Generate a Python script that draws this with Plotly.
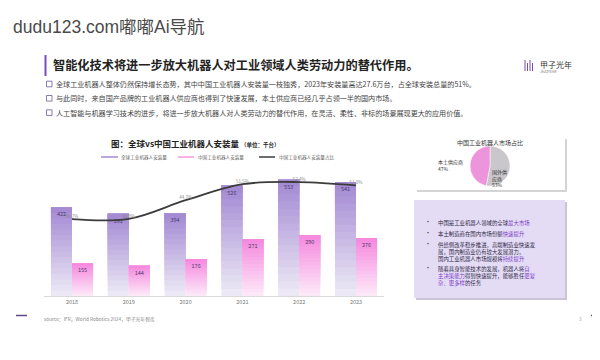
import plotly.graph_objects as go

# ---------------- data ----------------
years = ["2018", "2019", "2020", "2021", "2022", "2023"]
global_installs = [422, 391, 394, 526, 553, 541]
china_installs = [155, 144, 176, 271, 290, 276]
china_share = [36.7, 36.8, 44.7, 51.5, 52.4, 51.0]

series_names = ["全球工业机器人安装量", "中国工业机器人安装量", "中国工业机器人安装量占比"]

pie_labels = ["国外供应商", "本土供应商"]
pie_values = [53, 47]

FONT = "Noto Sans CJK SC"
W, H = 600, 360


def px(x):
    return x / W


def py(y):
    return 1 - y / H


def lerp_color(c1, c2, t):
    a = [int(c1[i:i + 2], 16) for i in (1, 3, 5)]
    b = [int(c2[i:i + 2], 16) for i in (1, 3, 5)]
    return "rgb(%d,%d,%d)" % tuple(round(a[i] + (b[i] - a[i]) * t) for i in range(3))


fig = go.Figure()

# gradient bars: layered bars, each starting higher, same offsetgroup
N = 16
grads = [
    (global_installs, "g", "#ece8f5", "#a48bd3"),
    (china_installs, "c", "#fde8f8", "#f58adf"),
]
for vals, grp, c_bot, c_top in grads:
    for k in range(N):
        bases = [v * k / N for v in vals]
        heights = [v - b for v, b in zip(vals, bases)]
        fig.add_trace(go.Bar(
            x=years, y=heights, base=bases, offsetgroup=grp,
            marker=dict(color=lerp_color(c_bot, c_top, k / (N - 1)), line=dict(width=0)),
            showlegend=False, hoverinfo="skip"))
    # transparent bar carrying the value label
    fig.add_trace(go.Bar(
        x=years, y=vals, offsetgroup=grp,
        marker=dict(color="rgba(0,0,0,0)", line=dict(width=0)),
        text=[str(v) for v in vals], textposition="inside", insidetextanchor="end",
        textangle=0, constraintext="none",
        insidetextfont=dict(family=FONT, size=5.5, color="#4a3b6e"),
        showlegend=False, hoverinfo="skip"))

# share line
fig.add_trace(go.Scatter(
    x=years, y=china_share, yaxis="y2", mode="lines+text",
    line=dict(color="#3c3c3c", width=1.8, shape="spline", smoothing=1),
    text=["%.1f%%" % v for v in china_share], textposition="top center",
    textfont=dict(family=FONT, size=4.5, color="#8a8a8a"),
    showlegend=False, hoverinfo="skip"))

# pie
fig.add_trace(go.Pie(
    labels=pie_labels, values=pie_values, sort=False, direction="clockwise", rotation=0,
    marker=dict(colors=["#c9c7cb", "#ec94dc"], line=dict(color="white", width=0.5)),
    textinfo="none", hoverinfo="skip", showlegend=False,
    domain=dict(x=[px(462), px(502)], y=[py(178), py(138)])))

shapes = []
annotations = []


def txt(x, y, s, size, color="#333", bold=False, anchor="left", family=FONT, yanchor="middle"):
    if bold:
        s = "<b>" + s + "</b>"
    annotations.append(dict(x=px(x), y=py(y), xref="paper", yref="paper", text=s,
                            showarrow=False, xanchor=anchor, yanchor=yanchor, align="left",
                            borderpad=0,
                            font=dict(family=family, size=size, color=color)))


def rect(x0, y0, x1, y1, fill, line=None, lw=0, layer="below"):
    shapes.append(dict(type="rect", xref="paper", yref="paper", x0=px(x0), x1=px(x1),
                       y0=py(y1), y1=py(y0), fillcolor=fill,
                       line=dict(color=line or fill, width=lw), layer=layer))


def hline(x0, x1, y, color, width=1.5):
    shapes.append(dict(type="line", xref="paper", yref="paper", x0=px(x0), x1=px(x1),
                       y0=py(y), y1=py(y), line=dict(color=color, width=width)))


# watermark header
txt(4, 19, "dudu123.com嘟嘟Ai导航", 17.5, "#4a4a4a", family="Liberation Sans, " + FONT)

# title bar
rect(36.5, 47, 38.5, 68, "#7a4bc0")
txt(44, 57.5, "智能化技术将进一步放大机器人对工业领域人类劳动力的替代作用。", 12.2, "#222", bold=True)

# logo
for i, xx in enumerate([517, 519.5, 522, 524.5]):
    shapes.append(dict(type="line", xref="paper", yref="paper", x0=px(xx), x1=px(xx),
                       y0=py(52 + (i % 2) * 3), y1=py(63), line=dict(color="#7a4bc0", width=1)))
txt(531, 56, "甲子光年", 8, "#333")
txt(531, 63, "JAZZYEAR", 3.5, "#777")

# bullets
bullets = [
    "全球工业机器人整体仍然保持增长态势，其中中国工业机器人安装量一枝独秀，2023年安装量高达27.6万台，占全球安装总量的51%。",
    "与此同时，来自国产品牌的工业机器人供应商也得到了快速发展，本土供应商已经几乎占领一半的国内市场。",
    "人工智能与机器学习技术的进步，将进一步放大机器人对人类劳动力的替代作用，在灵活、柔性、非标的场景展现更大的应用价值。",
]
for i, b in enumerate(bullets):
    y = 76 + i * 14.3
    rect(38.5, y - 2.8, 44, y + 2.8, "white", line="#6b5a9a", lw=0.8)
    txt(47, y, b, 7.1, "#444")

# chart title
txt(187, 134.5, "图：全球vs中国工业机器人安装量 <span style='font-size:5.5px'>（单位：千台）</span>",
    8.5, "#222", bold=True, anchor="center")

# custom legend
leg = [(93, 110, 112, "#a48bd3"), (170, 186, 189, "#f59ae0"), (251, 267, 270, "#3c3c3c")]
for (x0, x1, xt, c), name in zip(leg, series_names):
    hline(x0, x1, 149, c, 1.5)
    txt(xt, 149, name, 4.6, "#666")

# pie box
rect(409, 131, 559, 184, "#d4d4d4")
rect(407, 129, 557, 182, "white")
txt(482, 134.5, "中国工业机器人市场占比", 6, "#333", anchor="center")
txt(442, 156.5, pie_labels[1] + "<br>%d%%" % pie_values[1], 5, "#333", anchor="center")
txt(491, 169.5, pie_labels[0][:3] + "<br>" + pie_labels[0][3:] + "<br>%d%%" % pie_values[0],
    5, "#333", anchor="center")

# summary box
rect(408, 194, 559, 292, "#cbc4d6")
rect(406, 192, 557, 290, "#e4dbf5")
P = "#7d3fc8"


def hl(s):
    return "<span style='color:%s'>%s</span>" % (P, s)


paras = [
    (213, ["中国是工业机器人领域的全球" + hl("最大市场")]),
    (224, ["本土制造商在国内市场份额" + hl("快速提升")]),
    (235, ["供给侧改革稳步推进，高端制造业快速发",
           "展，国内制造业仍有较大发展潜力，",
           "国内工业机器人市场规模将" + hl("持续提升")]),
    (259, ["随着具身智能技术的发展，机器人将" + hl("自"),
           hl("主决策能力") + "得到快速提升，能够胜任" + hl("更复"),
           hl("杂、更多样") + "的任务"]),
]
for y, lines in paras:
    txt(420, y, "•", 6, "#333", anchor="center")
    txt(429, y - 3.4, "<br>".join(lines), 5.4, "#2f2a45", yanchor="top")

# footer
hline(8, 19, 307.5, "#5b4a8a", 1.5)
hline(583, 595, 307.5, "#5b4a8a", 1.5)
txt(35, 311, "source：IFR，World Robotics 2024，甲子光年智库", 4.8, "#888")
txt(572, 311, "3", 4.5, "#999", anchor="center")

fig.update_layout(
    width=W, height=H, margin=dict(l=0, r=0, t=0, b=0),
    paper_bgcolor="white", plot_bgcolor="rgba(0,0,0,0)",
    barmode="group", bargap=0.26, bargroupgap=0,
    showlegend=False,
    xaxis=dict(domain=[px(35.6), px(376.4)], type="category", showline=True,
               linecolor="#d9d9d9", linewidth=1, ticks="", showgrid=False, zeroline=False,
               tickfont=dict(family=FONT, size=5.5, color="#777")),
    yaxis=dict(domain=[py(288), py(150)], range=[0, 657], visible=False, showgrid=False),
    yaxis2=dict(overlaying="y", range=[4.1, 62.6], visible=False, showgrid=False),
    shapes=shapes, annotations=annotations,
    font=dict(family=FONT),
)

fig.write_html("out.html")
